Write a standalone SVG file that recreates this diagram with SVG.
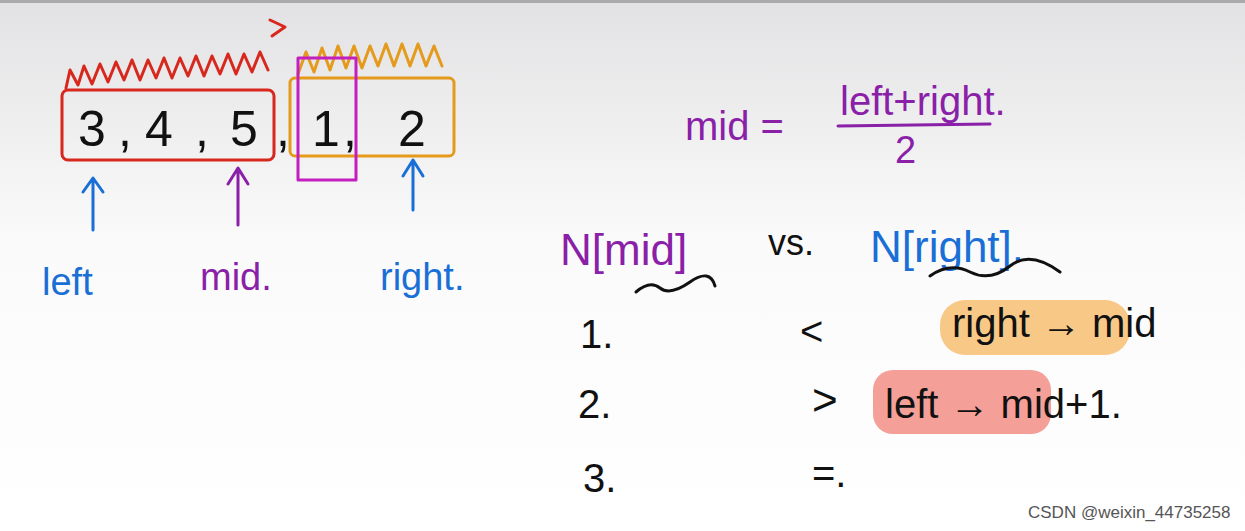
<svg xmlns="http://www.w3.org/2000/svg" width="1245" height="531" viewBox="0 0 1245 531">
<defs>
<linearGradient id="bg" x1="0" y1="0" x2="0" y2="1">
<stop offset="0" stop-color="#e2e2e4"/><stop offset="0.45" stop-color="#fafafa"/><stop offset="1" stop-color="#ffffff"/>
</linearGradient>
<style>
.h{font-family:"Liberation Sans",sans-serif;}
.k{fill:#111}.p{fill:#8a1fa8}.b{fill:#1a6fd6}
.ln{fill:none;stroke-width:3;stroke-linecap:round;stroke-linejoin:round}
</style>
</defs>
<rect width="1245" height="531" fill="url(#bg)"/>
<rect width="1245" height="3" fill="#aaa"/>
<g id="array">
<path class="ln" stroke="#d8271c" d="M66,88 L70,70 L78,85 L84,66 L92,84 L100,64 L108,82 L116,62 L124,80 L132,60 L140,80 L148,60 L156,78 L164,58 L172,78 L180,58 L188,76 L196,56 L204,76 L212,56 L220,74 L228,54 L236,74 L244,54 L252,72 L260,52 L268,70"/>
<path class="ln" stroke="#d8271c" d="M270,20 L285,27 L272,36"/>
<path class="ln" stroke="#e59a1c" d="M298,74 L306,52 L314,72 L322,48 L330,70 L338,46 L346,68 L354,46 L362,68 L370,46 L378,66 L386,44 L394,66 L402,44 L410,66 L418,44 L426,66 L434,46 L442,66"/>
<rect class="ln" stroke="#d8271c" x="62" y="90" width="212" height="70" rx="6"/>
<rect class="ln" stroke="#e59a1c" x="290" y="78" width="164" height="78" rx="5"/>
<rect class="ln" stroke="#c31ec0" x="298" y="58" width="58" height="122"/>
<g class="h k" font-size="50">
<text x="78" y="146">3</text><text x="118" y="146">,</text>
<text x="145" y="146">4</text><text x="195" y="146">,</text>
<text x="230" y="146">5</text><text x="276" y="146">,</text>
<text x="312" y="146">1</text><text x="343" y="146">,</text>
<text x="398" y="146">2</text>
</g>
</g>
<g id="pointers">
<path class="ln" stroke="#1a6fd6" d="M93,230 V180 M83,192 L93,178 L103,192"/>
<path class="ln" stroke="#8a1fa8" d="M238,225 V170 M228,184 L238,168 L248,184"/>
<path class="ln" stroke="#1a6fd6" d="M413,210 V162 M403,176 L413,160 L423,176"/>
<text class="h b" x="42" y="295" font-size="38">left</text>
<text class="h p" x="200" y="290" font-size="38">mid.</text>
<text class="h b" x="380" y="290" font-size="38">right.</text>
</g>
<g id="formula">
<text class="h p" x="685" y="140" font-size="40">mid =</text>
<text class="h p" x="840" y="115" font-size="40">left+right.</text>
<path class="ln" stroke="#8a1fa8" d="M838,126 L990,124"/>
<text class="h p" x="895" y="163" font-size="38">2</text>
</g>
<g id="compare">
<text class="h p" x="560" y="265" font-size="44">N[mid]</text>
<text class="h k" x="768" y="255" font-size="36">vs.</text>
<text class="h b" x="870" y="262" font-size="44">N[right].</text>
<path class="ln" stroke="#111" d="M636,292 Q650,280 660,288 T690,282 T715,286"/>
<path class="ln" stroke="#111" d="M930,276 Q950,262 970,272 T1010,266 T1060,272"/>
</g>
<g id="cases">
<rect x="940" y="300" width="190" height="55" rx="25" fill="#f7c27a" opacity="0.9"/>
<rect x="873" y="370" width="178" height="64" rx="20" fill="#f28e86" opacity="0.85"/>
<text class="h k" x="580" y="348" font-size="40">1.</text>
<text class="h k" x="800" y="345" font-size="40">&lt;</text>
<text class="h k" x="952" y="337" font-size="40">right → mid</text>
<text class="h k" x="578" y="418" font-size="40">2.</text>
<text class="h k" x="812" y="415" font-size="44">&gt;</text>
<text class="h k" x="885" y="418" font-size="40">left → mid+1.</text>
<text class="h k" x="583" y="492" font-size="40">3.</text>
<text class="h k" x="812" y="487" font-size="40">=.</text>
</g>
<text class="h" x="1028" y="518" font-size="17" fill="#555">CSDN @weixin_44735258</text>
</svg>
